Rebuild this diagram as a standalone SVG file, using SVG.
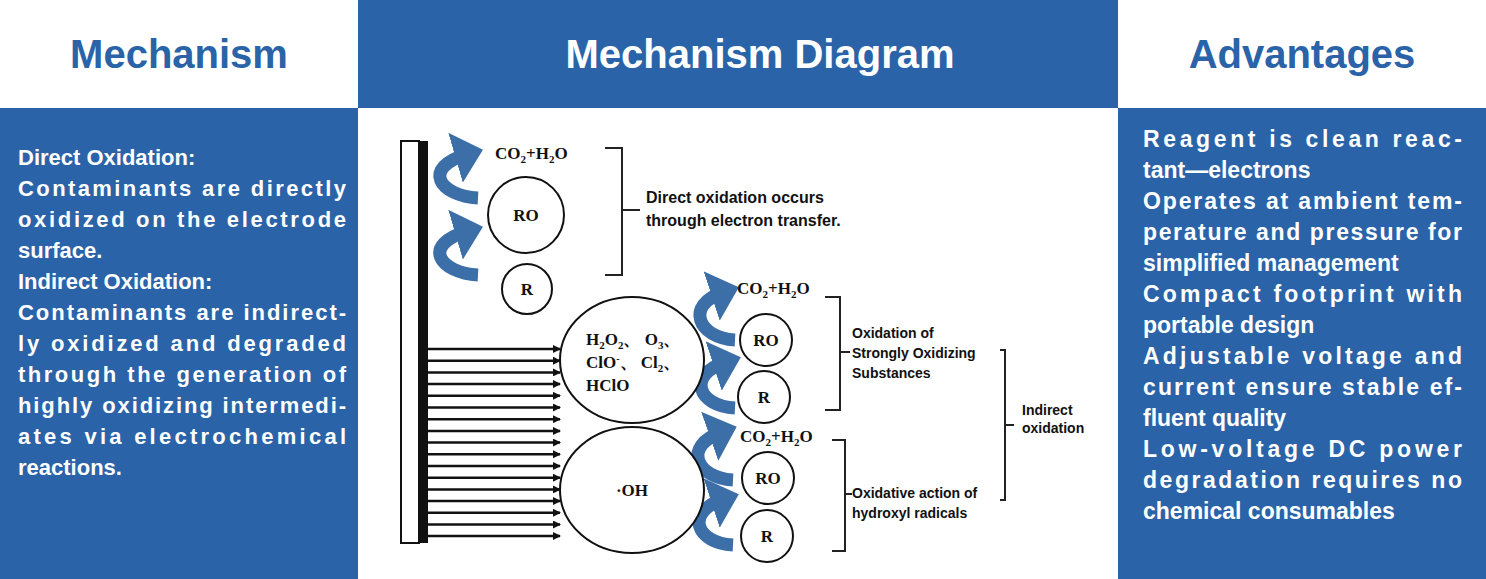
<svg xmlns="http://www.w3.org/2000/svg" width="1486" height="579" viewBox="0 0 1486 579">
<style>
.hd{font-family:"Liberation Sans",Arial,sans-serif;font-weight:bold;font-size:40px;text-anchor:middle}
.bt{font-family:"Liberation Sans",Arial,sans-serif;font-weight:bold;font-size:22px;fill:#fff}
.rt{font-family:"Liberation Sans",Arial,sans-serif;font-weight:bold;font-size:23px;fill:#fff}
.ch{font-family:"Liberation Serif","Times New Roman",serif;font-weight:bold;font-size:17px;fill:#111}
.lb{font-family:"Liberation Sans",Arial,sans-serif;font-weight:bold;fill:#111}
.c{fill:#fff;stroke:#111;stroke-width:2}
.br{fill:none;stroke:#222;stroke-width:2}
.ba{fill:none;stroke:#3c6ea8;stroke-width:13}
.ln{stroke:#111;stroke-width:2.5;marker-end:url(#ah)}
</style>
<defs>
<marker id="ah" markerWidth="8" markerHeight="8" refX="7" refY="4" orient="auto" markerUnits="userSpaceOnUse"><path d="M0,0 L8,4 L0,8 Z" fill="#111"/></marker>
<marker id="bh" markerWidth="4" markerHeight="4" refX="1" refY="2" orient="auto"><path d="M0,0 L2.2,2 L0,4 Z" fill="#3c6ea8"/></marker>
</defs>
<rect width="1486" height="579" fill="#fff"/>
<g id="header-left"><text class="hd" x="179" y="68" fill="#2a63a8">Mechanism</text></g>
<g id="header-center"><rect x="358" y="0" width="760" height="108" fill="#2a63a8"/><text class="hd" x="760" y="68" fill="#fff">Mechanism Diagram</text></g>
<g id="header-right"><text class="hd" x="1302" y="68" fill="#2a63a8">Advantages</text></g>
<g id="mechanism-text">
<rect x="0" y="108" width="358" height="471" fill="#2a63a8"/>
<text class="bt" x="18" y="165">Direct Oxidation:</text>
<text class="bt" x="18" y="196" textLength="328" lengthAdjust="spacing">Contaminants are directly</text>
<text class="bt" x="18" y="227" textLength="328" lengthAdjust="spacing">oxidized on the electrode</text>
<text class="bt" x="18" y="258">surface.</text>
<text class="bt" x="18" y="289">Indirect Oxidation:</text>
<text class="bt" x="18" y="320" textLength="328" lengthAdjust="spacing">Contaminants are indirect-</text>
<text class="bt" x="18" y="351" textLength="328" lengthAdjust="spacing">ly oxidized and degraded</text>
<text class="bt" x="18" y="382" textLength="328" lengthAdjust="spacing">through the generation of</text>
<text class="bt" x="18" y="413" textLength="328" lengthAdjust="spacing">highly oxidizing intermedi-</text>
<text class="bt" x="18" y="444" textLength="328" lengthAdjust="spacing">ates via electrochemical</text>
<text class="bt" x="18" y="475">reactions.</text>
</g>
<g id="advantages-text">
<rect x="1118" y="108" width="368" height="471" fill="#2a63a8"/>
<text class="rt" x="1143" y="147" textLength="319" lengthAdjust="spacing">Reagent is clean reac-</text>
<text class="rt" x="1143" y="178">tant—electrons</text>
<text class="rt" x="1143" y="209" textLength="319" lengthAdjust="spacing">Operates at ambient tem-</text>
<text class="rt" x="1143" y="240" textLength="319" lengthAdjust="spacing">perature and pressure for</text>
<text class="rt" x="1143" y="271">simplified management</text>
<text class="rt" x="1143" y="302" textLength="319" lengthAdjust="spacing">Compact footprint with</text>
<text class="rt" x="1143" y="333">portable design</text>
<text class="rt" x="1143" y="364" textLength="319" lengthAdjust="spacing">Adjustable voltage and</text>
<text class="rt" x="1143" y="395" textLength="319" lengthAdjust="spacing">current ensure stable ef-</text>
<text class="rt" x="1143" y="426">fluent quality</text>
<text class="rt" x="1143" y="457" textLength="319" lengthAdjust="spacing">Low-voltage DC power</text>
<text class="rt" x="1143" y="488" textLength="319" lengthAdjust="spacing">degradation requires no</text>
<text class="rt" x="1143" y="519">chemical consumables</text>
</g>
<g id="electrode">
<rect x="401" y="141" width="18" height="402" fill="#fff" stroke="#111" stroke-width="2"/>
<rect x="418" y="141" width="10" height="402" fill="#111"/>
</g>
<g id="connectors">
<line class="ln" x1="428" y1="349" x2="560" y2="349"/><line class="ln" x1="428" y1="360.7" x2="560" y2="360.7"/><line class="ln" x1="428" y1="372.4" x2="560" y2="372.4"/><line class="ln" x1="428" y1="384.1" x2="560" y2="384.1"/><line class="ln" x1="428" y1="395.8" x2="560" y2="395.8"/><line class="ln" x1="428" y1="407.5" x2="560" y2="407.5"/><line class="ln" x1="428" y1="419.2" x2="560" y2="419.2"/><line class="ln" x1="428" y1="430.9" x2="560" y2="430.9"/><line class="ln" x1="428" y1="442.6" x2="560" y2="442.6"/><line class="ln" x1="428" y1="454.3" x2="560" y2="454.3"/><line class="ln" x1="428" y1="466" x2="560" y2="466"/><line class="ln" x1="428" y1="477.7" x2="560" y2="477.7"/><line class="ln" x1="428" y1="489.4" x2="560" y2="489.4"/><line class="ln" x1="428" y1="501.1" x2="560" y2="501.1"/><line class="ln" x1="428" y1="512.8" x2="560" y2="512.8"/><line class="ln" x1="428" y1="524.5" x2="560" y2="524.5"/><line class="ln" x1="428" y1="536" x2="560" y2="536"/>
<path class="ba" marker-end="url(#bh)" d="M478,198 C440,196 420,168 468,154"/>
<path class="ba" marker-end="url(#bh)" d="M478,275 C440,273 420,245 468,231"/>
<path class="ba" marker-end="url(#bh)" d="M735,340 C698,338 684,305 724,292"/>
<path class="ba" marker-end="url(#bh)" d="M735,408 C698,406 686,375 726,362"/>
<path class="ba" marker-end="url(#bh)" d="M733,480 C696,478 682,446 722,432"/>
<path class="ba" marker-end="url(#bh)" d="M733,545 C696,543 684,512 724,499"/>
<path class="br" d="M605,148 H622 V275 H605 M622,210 H640"/>
<path class="br" d="M825,297 H840 V410 H825 M840,352 H850"/>
<path class="br" d="M832,440 H845 V551 H832 M845,494 H852"/>
<path class="br" d="M1000,350 H1005 V500 H1000 M1005,425 H1014"/>
</g>
<g id="top-group">
<text class="ch" x="495" y="159">CO<tspan font-size="11" dy="4">2</tspan><tspan dy="-4">+H</tspan><tspan font-size="11" dy="4">2</tspan><tspan dy="-4">O</tspan></text>
<circle class="c" cx="526" cy="215" r="38"/><text class="ch" x="526" y="221" text-anchor="middle">RO</text>
<circle class="c" cx="527" cy="289" r="25"/><text class="ch" x="527" y="295" text-anchor="middle">R</text>
<text class="lb" font-size="16" x="646" y="203">Direct oxidation occurs</text>
<text class="lb" font-size="16" x="646" y="226">through electron transfer.</text>
</g>
<g id="oxidant-group">
<ellipse class="c" cx="632" cy="360" rx="72" ry="63"/>
<text class="ch" x="586" y="345">H<tspan font-size="11" dy="4">2</tspan><tspan dy="-4">O</tspan><tspan font-size="11" dy="4">2</tspan><tspan dy="-4">、 O</tspan><tspan font-size="11" dy="4">3</tspan><tspan dy="-4">、</tspan></text>
<text class="ch" x="586" y="368">ClO<tspan font-size="10" dy="-6">-</tspan><tspan dy="6">、 Cl</tspan><tspan font-size="11" dy="4">2</tspan><tspan dy="-4">、</tspan></text>
<text class="ch" x="586" y="391">HClO</text>
<text class="ch" x="737" y="294">CO<tspan font-size="11" dy="4">2</tspan><tspan dy="-4">+H</tspan><tspan font-size="11" dy="4">2</tspan><tspan dy="-4">O</tspan></text>
<circle class="c" cx="766" cy="340" r="26"/><text class="ch" x="766" y="346" text-anchor="middle">RO</text>
<circle class="c" cx="764" cy="397" r="26"/><text class="ch" x="764" y="403" text-anchor="middle">R</text>
<text class="lb" font-size="14" x="852" y="338">Oxidation of</text>
<text class="lb" font-size="14" x="852" y="358">Strongly Oxidizing</text>
<text class="lb" font-size="14" x="852" y="378">Substances</text>
</g>
<g id="hydroxyl-group">
<ellipse class="c" cx="632" cy="490" rx="72" ry="63"/>
<text class="ch" x="632" y="496" text-anchor="middle">·OH</text>
<text class="ch" x="740" y="442">CO<tspan font-size="11" dy="4">2</tspan><tspan dy="-4">+H</tspan><tspan font-size="11" dy="4">2</tspan><tspan dy="-4">O</tspan></text>
<circle class="c" cx="768" cy="478" r="26"/><text class="ch" x="768" y="484" text-anchor="middle">RO</text>
<circle class="c" cx="767" cy="536" r="26"/><text class="ch" x="767" y="542" text-anchor="middle">R</text>
<text class="lb" font-size="14" x="852" y="498">Oxidative action of</text>
<text class="lb" font-size="14" x="852" y="518">hydroxyl radicals</text>
</g>
<g id="indirect-label">
<text class="lb" font-size="14" x="1022" y="415">Indirect</text>
<text class="lb" font-size="14" x="1022" y="433">oxidation</text>
</g>
</svg>
